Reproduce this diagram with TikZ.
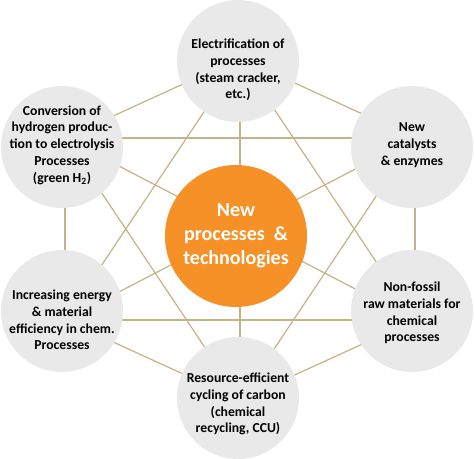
\documentclass[tikz,border=0pt]{standalone}
\usepackage{fontspec}
\setmainfont{Carlito}
\usepackage{tikz}
\usetikzlibrary{backgrounds}
\definecolor{HubGray}{RGB}{233,233,233}
\definecolor{CoreOrange}{RGB}{245,145,38}
\definecolor{LinkTan}{RGB}{198,178,132}

\begin{document}
\begin{tikzpicture}[
  x=1pt, y=1pt,
  font=\bfseries\fontsize{13.7}{16.7}\selectfont,
  hub/.style={circle, fill=HubGray, minimum size=122pt, inner sep=0pt},
  core/.style={circle, fill=CoreOrange, minimum size=142pt, inner sep=0pt, text=white, align=center, font=\bfseries\fontsize{20}{24}\selectfont},
  txt/.style={align=center, inner sep=0pt},
  link/.style={draw=LinkTan, line width=1.2pt}
]
  \useasboundingbox (0,0) rectangle (474,458);

  % circles
  \node[hub] (top) at (238,397) {};
  \node[hub] (ur) at (412,311) {};
  \node[hub] (lr) at (412,147) {};
  \node[hub] (bot) at (238,60) {};
  \node[hub] (ll) at (62,147) {};
  \node[hub] (ul) at (62,311) {};
  \node[core] (ctr) at (236,222) {New\\processes\ \ \&\\technologies};

  % texts
  \node[txt] (top-t) at ([yshift=-9pt]top.center) {Electrification of\\processes\\(steam cracker,\\etc.)};
  \node[txt] (ur-t) at ([yshift=2pt]ur.center) {New\\catalysts\\\& enzymes};
  \node[txt] (lr-t) at ([yshift=-2pt]lr.center) {Non-fossil\\raw materials for\\chemical\\processes};
  \node[txt] (bot-t) at ([yshift=-6pt]bot.center) {Resource-efficient\\cycling of carbon\\(chemical\\recycling, CCU)};
  \node[txt] (ll-t) at ([yshift=-9pt]ll.center) {Increasing energy\\\& material\\efficiency in chem.\\Processes};
  \node[txt] (ul-t) at ([yshift=2pt]ul.center) {Conversion of\\hydrogen produc-\\tion to electrolysis\\Processes\\(green H\textsubscript{2})};

  % line ends
  \coordinate (top-p) at ([shift={(2,3)}]top.center);
  \coordinate (ur-p) at ([shift={(3,9)}]ur.center);
  \coordinate (lr-p) at ([shift={(3,-9)}]lr.center);
  \coordinate (bot-p) at ([shift={(2,-2)}]bot.center);
  \coordinate (ll-p) at ([shift={(3,-9)}]ll.center);
  \coordinate (ul-p) at ([shift={(3,9)}]ul.center);
  \coordinate (ctr-p) at ([shift={(4,7)}]ctr.center);

  \begin{scope}[on background layer]
    % hexagon
    \foreach \a/\b in {top/ur, ur/lr, lr/bot, bot/ll, ll/ul, ul/top}
      \draw[link] (\a-p) -- (\b-p);
    % star
    \foreach \a/\b in {ul/ur, ur/bot, bot/ul, top/lr, lr/ll, ll/top}
      \draw[link] (\a-p) -- (\b-p);
    % spokes
    \foreach \a in {top, ur, lr, bot, ll, ul}
      \draw[link] (ctr-p) -- (\a-p);
  \end{scope}
\end{tikzpicture}
\end{document}
